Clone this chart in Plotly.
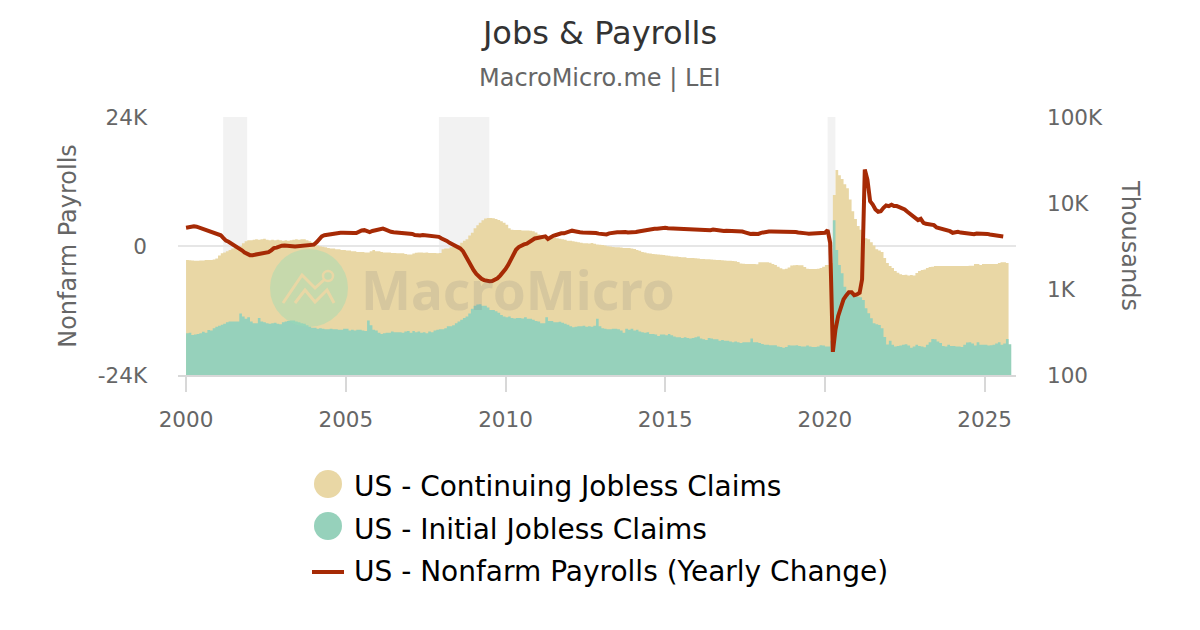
import pandas as pd
import plotly.graph_objects as go

# monthly values, thousands
continuing_claims = [
    2170, 2160, 2150, 2130, 2130, 2140, 2150, 2170, 2170, 2180, 2200, 2260,
    2450, 2600, 2650, 2750, 2850, 2950, 3000, 3100, 3150, 3400, 3600, 3700,
    3700, 3750, 3800, 3750, 3800, 3850, 3750, 3700, 3750, 3700, 3750, 3700,
    3650, 3700, 3650, 3700, 3750, 3800, 3750, 3800, 3800, 3700, 3600, 3500,
    3300, 3200, 3150, 3100, 3050, 3000, 2950, 2950, 2900, 2900, 2850, 2850,
    2800, 2800, 2750, 2750, 2700, 2700, 2700, 2650, 2650, 2750, 2850, 2750,
    2750, 2700, 2650, 2650, 2650, 2620, 2620, 2600, 2600, 2600, 2550, 2520,
    2520, 2580, 2640, 2660, 2650, 2640, 2650, 2630, 2620, 2620, 2600, 2620,
    2900, 2950, 2950, 3050, 3080, 3200, 3250, 3450, 3650, 3800, 4200, 4500,
    5100, 5500, 5900, 6300, 6600, 6700, 6700, 6650, 6500, 6350, 6150, 5900,
    5600, 5100, 4900, 4850, 4850, 4850, 4800, 4800, 4800, 4750, 4700, 4550,
    4300, 4250, 4100, 4050, 4000, 4000, 3950, 3900, 3850, 3800, 3750, 3650,
    3650, 3600, 3550, 3500, 3450, 3400, 3400, 3380, 3420, 3350, 3300, 3260,
    3250, 3200, 3150, 3120, 3080, 3050, 3050, 3030, 3000, 3000, 3000, 2950,
    2920, 2850, 2780, 2700, 2650, 2600, 2580, 2560, 2530, 2520, 2500, 2480,
    2460, 2430, 2400, 2380, 2380, 2360, 2340, 2340, 2300, 2300, 2290, 2280,
    2260, 2240, 2240, 2220, 2220, 2200, 2190, 2180, 2170, 2160, 2150, 2130,
    2130, 2120, 2100, 2060, 1980, 1960, 1950, 1950, 1950, 1950, 1940, 2040,
    2040, 2040, 2040, 2020, 1950, 1900, 1820, 1740, 1700, 1720, 1780, 1880,
    1890, 1900, 1890, 1890, 1800, 1720, 1710, 1710, 1710, 1720, 1750, 1820,
    1900, 1900, 2000, 12400, 24200, 21000, 19000, 16500, 14800, 11000, 8000, 6500,
    5400, 4900, 4500, 3880, 3800, 3500, 3200, 2900, 2800, 2700, 2300, 2000,
    1850, 1750, 1620, 1550, 1480, 1450, 1460, 1440, 1450, 1440, 1530, 1620,
    1660, 1680, 1760, 1800, 1810, 1850, 1850, 1850, 1850, 1850, 1850, 1850,
    1850, 1850, 1850, 1850, 1850, 1850, 1860, 1860, 1950, 1950, 1900, 1950,
    1950, 1950, 1950, 1950, 1950, 2000, 2040, 2040, 2000, 1970,
]
initial_claims = [
    305, 310, 292, 296, 300, 305, 319, 310, 334, 330, 350, 365,
    375, 385, 395, 410, 418, 418, 420, 418, 520, 480, 450, 470,
    420, 400, 400, 460, 420, 410, 400, 395, 400, 405, 395, 390,
    410, 420, 425, 430, 430, 420, 410, 400, 395, 380, 365, 355,
    355, 345, 350, 345, 340, 340, 345, 340, 340, 335, 335, 345,
    345, 330, 335, 330, 335, 335, 330, 325, 430, 380, 335, 330,
    310, 300, 305, 310, 310, 320, 315, 315, 315, 310, 320, 325,
    310, 325, 315, 320, 310, 315, 305, 320, 315, 330, 335, 340,
    340, 350, 370, 370, 380, 400, 420, 440, 460, 480, 520, 590,
    640, 660, 665, 640, 640, 610, 570, 570, 550, 530, 500, 480,
    470, 480, 460, 455, 460, 460, 455, 470, 450, 450, 440, 425,
    420, 400, 400, 470, 425, 425, 410, 410, 415, 405, 395, 385,
    370, 360, 365, 370, 370, 375, 365, 370, 365, 375, 450, 370,
    350, 345, 340, 340, 345, 345, 340, 330, 310, 345, 335, 345,
    330, 335, 320, 315, 310, 315, 300, 300, 295, 285, 295, 295,
    290, 300, 290, 280, 275, 275, 270, 275, 270, 265, 270, 275,
    280, 265, 260, 255, 270, 265, 260, 260, 250, 255, 250, 250,
    245, 240, 245, 240, 235, 240, 240, 240, 265, 240, 240, 235,
    230, 225, 225, 222, 222, 222, 215, 212, 208, 212, 222, 220,
    220, 222, 218, 215, 215, 220, 215, 212, 212, 215, 222, 220,
    215, 215, 250, 6300, 2840, 1900, 1520, 1064, 930, 890, 850, 850,
    813, 800, 745, 596, 521, 456, 399, 390, 381, 349, 277, 227,
    250, 225, 215, 218, 220, 225, 228, 220, 208, 215, 225, 218,
    215, 210, 225, 240, 262, 260, 245, 235, 218, 215, 225, 218,
    218, 215, 215, 212, 225, 238, 240, 232, 220, 240, 225, 225,
    225, 220, 222, 225, 232, 240, 225, 232, 262, 228, 228,
]
nonfarm_yoy = [
    3400, 3550, 3650, 3650, 3600, 3400, 3200, 3100, 2900, 2700, 2500, 2300,
    2200, 2000, 1500, 1000, 800, 500, 300, 0, -400, -800, -1200, -1500,
    -1700, -1700, -1600, -1550, -1500, -1400, -1300, -1150, -800, -400, -300, -100,
    50, 100, 0, -50, -30, -80, -50, -50, -20, 50, 100, 180,
    250, 700, 1300, 1800, 2000, 2100, 2150, 2200, 2300, 2400, 2450, 2450,
    2400, 2420, 2450, 2400, 2400, 2700, 2900, 2950, 2800, 2600, 2800, 2900,
    3000, 3150, 3250, 3050, 2800, 2650, 2550, 2500, 2500, 2550, 2500, 2450,
    2400, 2250, 2050, 1950, 1950, 2050, 2000, 1850, 1750, 1700, 1700, 1700,
    1400, 1200, 950, 600, 350, 150, -100, -450, -950, -1900, -2700, -3500,
    -4500, -5200, -5700, -6100, -6350, -6500, -6550, -6500, -6300, -6000, -5500, -5000,
    -4300, -3500, -2500, -1500, -700, -200, 100, 300, 450, 800, 1100, 1400,
    1500, 1650, 1800, 1800, 1300, 1700, 1900, 2050, 2250, 2350, 2350, 2550,
    2800, 2850, 2750, 2600, 2550, 2500, 2500, 2550, 2500, 2450, 2400, 2300,
    2300, 2200, 2150, 2350, 2450, 2500, 2550, 2550, 2600, 2600, 2500, 2500,
    2450, 2600, 2700, 2800, 2850, 2950, 3000, 3100, 3200, 3200, 3300, 3400,
    3400, 3300, 3280, 3250, 3200, 3200, 3150, 3100, 3050, 3000, 2950, 2900,
    2900, 2880, 2850, 2880, 2850, 2950, 3050, 3000, 2800, 2750, 2800, 2850,
    2850, 2800, 2850, 2800, 2750, 2700, 2550, 2350, 2250, 2300, 2250, 2250,
    2450, 2600, 2650, 2700, 2700, 2700, 2700, 2700, 2650, 2600, 2550, 2650,
    2700, 2600, 2500, 2500, 2400, 2350, 2300, 2300, 2300, 2300, 2350, 2400,
    2450, 2950, 590, -19690, -15540, -13020, -11500, -9950, -9200, -8600, -8600, -9150,
    -9000, -8700, -6200, 14230, 12370, 8340, 7720, 6790, 6360, 6480, 7100, 7540,
    7420, 7670, 7420, 7420, 7230, 7000, 6800, 6360, 6000, 5560, 5250, 4820,
    5060, 4320, 4130, 4050, 4000, 3880, 3450, 3330, 3200, 3070, 2950, 2760,
    2450, 2640, 2640, 2500, 2450, 2330, 2250, 2250, 2200, 2330, 2330, 2390,
    2330, 2250, 2130, 2050, 1950, 1900, 1820, 1780,
]
recession_start = ["2001-03-01", "2007-12-01", "2020-02-01"]
recession_end = ["2001-11-30", "2009-06-30", "2020-04-30"]

continuing_dates = pd.date_range("2000-01-01", periods=len(continuing_claims), freq="MS")
initial_dates = pd.date_range("2000-01-01", periods=len(initial_claims), freq="MS")
nonfarm_dates = pd.date_range("2000-01-01", periods=len(nonfarm_yoy), freq="MS")

TAN = "#e9d7a5"
TEAL = "#96d1bb"
RED = "#a62a05"
GREY = "#666666"
FONT = "DejaVu Sans"


# page pixels to paper fractions, plot area is 178-1016 by 117-375
def fx(x):
    return (x - 178) / 838


def fy(y):
    return (375 - y) / 258


fig = go.Figure()
fig.add_trace(go.Scatter(x=continuing_dates, y=continuing_claims, name="US - Continuing Jobless Claims",
                         mode="lines", line=dict(color=TAN, width=0, shape="hv"),
                         fill="tozeroy", fillcolor=TAN, yaxis="y"))
fig.add_trace(go.Scatter(x=initial_dates, y=initial_claims, name="US - Initial Jobless Claims",
                         mode="lines", line=dict(color=TEAL, width=0, shape="hv"),
                         fill="tozeroy", fillcolor=TEAL, yaxis="y"))
fig.add_trace(go.Scatter(x=nonfarm_dates, y=nonfarm_yoy, name="US - Nonfarm Payrolls (Yearly Change)",
                         mode="lines", line=dict(color=RED, width=4), yaxis="y2"))

shapes = []
for start, end in zip(recession_start, recession_end):
    shapes.append(dict(type="rect", xref="x", yref="paper", x0=start, x1=end, y0=0, y1=1,
                       fillcolor="#f2f2f2", line_width=0, layer="below"))

# watermark logo
shapes.append(dict(type="circle", xref="paper", yref="paper", x0=fx(270), x1=fx(348), y0=fy(327), y1=fy(249),
                   fillcolor="rgba(150,220,180,0.42)", line_width=0))
logo_lines = [
    [(283, 303), (302, 275), (315, 288), (325, 279)],
    [(295, 303), (305, 290), (315, 302), (327, 290), (334, 303)],
]
for pts in logo_lines:
    path = "M " + " L ".join(f"{fx(a):.4f},{fy(b):.4f}" for a, b in pts)
    shapes.append(dict(type="path", xref="paper", yref="paper", path=path,
                       line=dict(color=TAN, width=3)))
shapes.append(dict(type="circle", xref="paper", yref="paper", x0=fx(323), x1=fx(333), y0=fy(281), y1=fy(271),
                   line=dict(color=TAN, width=2.5)))

# legend swatches
shapes.append(dict(type="circle", xref="paper", yref="paper", x0=fx(314), x1=fx(342), y0=fy(498), y1=fy(470),
                   fillcolor=TAN, line_width=0))
shapes.append(dict(type="circle", xref="paper", yref="paper", x0=fx(314), x1=fx(342), y0=fy(540), y1=fy(512),
                   fillcolor=TEAL, line_width=0))
shapes.append(dict(type="line", xref="paper", yref="paper", x0=fx(312), x1=fx(344), y0=fy(572), y1=fy(572),
                   line=dict(color=RED, width=4)))

annotations = [
    dict(text="MacroMicro.me | LEI", x=fx(600), xref="paper", xanchor="center",
         y=fy(78), yref="paper", yanchor="middle", showarrow=False,
         font=dict(family=FONT, size=24, color=GREY)),
    dict(text="MacroMicro", x=fx(359), xref="paper", xanchor="left",
         y=fy(289), yref="paper", yanchor="middle", showarrow=False,
         font=dict(family="Noto Sans", size=53, weight=700, color="rgba(110,110,120,0.15)")),
    dict(text="Thousands", x=fx(1130), xref="paper", xanchor="center",
         y=fy(245), yref="paper", yanchor="middle", showarrow=False, textangle=90,
         font=dict(family=FONT, size=24, color=GREY)),
]
legend_rows = [("US - Continuing Jobless Claims", 487), ("US - Initial Jobless Claims", 529),
               ("US - Nonfarm Payrolls (Yearly Change)", 571)]
for label, row in legend_rows:
    annotations.append(dict(text=label, x=fx(352), xref="paper", xanchor="left",
                            y=fy(row), yref="paper", yanchor="middle", showarrow=False,
                            font=dict(family=FONT, size=28, color="#000000")))

fig.update_layout(
    width=1200, height=630, autosize=False,
    margin=dict(l=178, r=184, t=117, b=255),
    plot_bgcolor="white", paper_bgcolor="white",
    showlegend=False, hovermode=False,
    font=dict(family=FONT, color=GREY),
    title=dict(text="Jobs &amp; Payrolls", x=0.5, xanchor="center", y=1 - 33 / 630, yanchor="middle",
               font=dict(family=FONT, size=32, color="#333333")),
    shapes=shapes, annotations=annotations,
    xaxis=dict(type="date", range=["1999-10-01", "2025-12-25"], dtick="M60", tick0="2000-01-01",
               tickformat="%Y", ticks="outside", ticklen=15, tickwidth=2, tickcolor="#d8d8d8",
               showgrid=False, showline=True, linecolor="#d8d8d8", linewidth=2,
               ticklabelstandoff=9, tickfont=dict(size=21.5, color=GREY)),
    yaxis=dict(type="log", range=[2, 5], side="right", tickvals=[100, 1000, 10000, 100000],
               ticktext=["100", "1K", "10K", "100K"], showgrid=False, ticks="",
               ticklabelstandoff=30, tickfont=dict(size=21.5, color=GREY)),
    yaxis2=dict(overlaying="y", side="left", range=[-24000, 24000], tickvals=[-24000, 0, 24000],
                ticktext=["-24K", "0", "24K"], showgrid=True, gridcolor="#e6e6e6", gridwidth=2,
                zeroline=False, ticks="", ticklabelstandoff=30, tickfont=dict(size=21.5, color=GREY),
                title=dict(text="Nonfarm Payrolls", font=dict(size=24, color=GREY), standoff=14)),
)

fig.write_html("out.html", config=dict(displayModeBar=False),
               post_script="document.body.style.margin='0';")
